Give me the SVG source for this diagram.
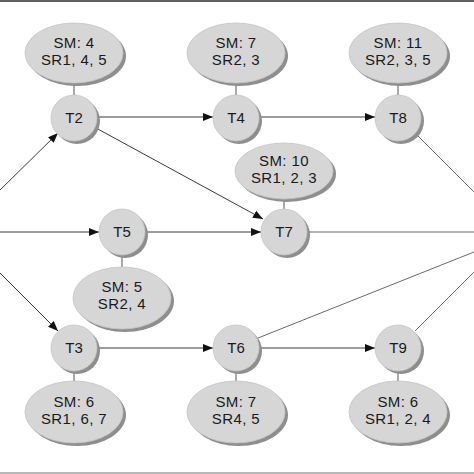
<svg xmlns="http://www.w3.org/2000/svg" width="474" height="474" viewBox="0 0 474 474">
<style>
.bg{fill:#ffffff}
.sh{fill:#8e8e8e}
.nd{fill:#d6d6d6;stroke:#c4c4c4;stroke-width:0.8}
.t{font-family:"Liberation Sans",Arial,sans-serif;font-size:15px;fill:#1a1a1a;text-anchor:middle}
.l{letter-spacing:0.4px}
.e{stroke:#3a3a3a;stroke-width:1;fill:none}
.eg{stroke:#6a6a6a;stroke-width:1;fill:none}
.stub{stroke:#555;stroke-width:1}
</style>
<defs>
<marker id="ah" viewBox="0 0 10 8" refX="10" refY="4" markerWidth="10" markerHeight="8" markerUnits="userSpaceOnUse" orient="auto">
<path d="M0,0 L10,4 L0,8 Z" fill="#111"/>
</marker>
</defs>
<rect class="bg" x="0" y="0" width="474" height="474"/>
<rect x="0" y="0" width="474" height="2" fill="#606060"/>
<rect x="0" y="472" width="474" height="2" fill="#b8b8b8"/>

<g id="connectors">
<line class="e" x1="0" y1="190" x2="58" y2="133" marker-end="url(#ah)"/>
<line class="e" x1="0" y1="232" x2="99" y2="232" marker-end="url(#ah)"/>
<line class="e" x1="0" y1="273" x2="58" y2="331" marker-end="url(#ah)"/>
<line class="e" x1="98" y1="117" x2="213" y2="117" marker-end="url(#ah)"/>
<line class="e" x1="96" y1="128" x2="263" y2="219" marker-end="url(#ah)"/>
<line class="e" x1="260" y1="117" x2="375" y2="117" marker-end="url(#ah)"/>
<line class="e" x1="146" y1="232" x2="261" y2="232" marker-end="url(#ah)"/>
<line class="e" x1="98" y1="348" x2="213" y2="348" marker-end="url(#ah)"/>
<line class="e" x1="260" y1="348" x2="375" y2="348" marker-end="url(#ah)"/>
<line class="eg" x1="308" y1="232" x2="474" y2="232"/>
<line class="eg" x1="417" y1="135" x2="474" y2="192"/>
<line class="eg" x1="258" y1="338" x2="474" y2="252"/>
<line class="eg" x1="415" y1="331" x2="474" y2="272"/>
<line class="stub" x1="74" y1="83" x2="74" y2="95"/>
<line class="stub" x1="236" y1="83" x2="236" y2="95"/>
<line class="stub" x1="398" y1="83" x2="398" y2="95"/>
<line class="stub" x1="284" y1="199" x2="284" y2="210"/>
<line class="stub" x1="122" y1="254" x2="122" y2="268"/>
<line class="stub" x1="74" y1="370" x2="74" y2="382"/>
<line class="stub" x1="236" y1="370" x2="236" y2="382"/>
<line class="stub" x1="398" y1="370" x2="398" y2="382"/>
</g>

<g id="T2"><circle class="sh" cx="77" cy="121" r="23"/><circle class="nd" cx="74" cy="118" r="23"/><text class="t" x="74" y="123">T2</text></g>
<g id="T4"><circle class="sh" cx="239" cy="121" r="23"/><circle class="nd" cx="236" cy="118" r="23"/><text class="t" x="236" y="123">T4</text></g>
<g id="T8"><circle class="sh" cx="401" cy="121" r="23"/><circle class="nd" cx="398" cy="118" r="23"/><text class="t" x="398" y="123">T8</text></g>
<g id="T5"><circle class="sh" cx="125" cy="235" r="23"/><circle class="nd" cx="122" cy="232" r="23"/><text class="t" x="122" y="237">T5</text></g>
<g id="T7"><circle class="sh" cx="287" cy="235" r="23"/><circle class="nd" cx="284" cy="232" r="23"/><text class="t" x="284" y="237">T7</text></g>
<g id="T3"><circle class="sh" cx="77" cy="351" r="23"/><circle class="nd" cx="74" cy="348" r="23"/><text class="t" x="74" y="353">T3</text></g>
<g id="T6"><circle class="sh" cx="239" cy="351" r="23"/><circle class="nd" cx="236" cy="348" r="23"/><text class="t" x="236" y="353">T6</text></g>
<g id="T9"><circle class="sh" cx="401" cy="351" r="23"/><circle class="nd" cx="398" cy="348" r="23"/><text class="t" x="398" y="353">T9</text></g>

<g id="SM4"><ellipse class="sh" cx="77" cy="56" rx="49" ry="30"/><ellipse class="nd" cx="74" cy="53" rx="49" ry="30"/><text class="t l" x="74" y="48">SM: 4</text><text class="t l" x="74" y="65">SR1, 4, 5</text></g>
<g id="SM7a"><ellipse class="sh" cx="239" cy="56" rx="49" ry="30"/><ellipse class="nd" cx="236" cy="53" rx="49" ry="30"/><text class="t l" x="236" y="48">SM: 7</text><text class="t l" x="236" y="65">SR2, 3</text></g>
<g id="SM11"><ellipse class="sh" cx="401" cy="56" rx="49" ry="30"/><ellipse class="nd" cx="398" cy="53" rx="49" ry="30"/><text class="t l" x="398" y="48">SM: 11</text><text class="t l" x="398" y="65">SR2, 3, 5</text></g>
<g id="SM10"><ellipse class="sh" cx="287" cy="174" rx="49" ry="28"/><ellipse class="nd" cx="284" cy="171" rx="49" ry="28"/><text class="t l" x="284" y="166">SM: 10</text><text class="t l" x="284" y="183">SR1, 2, 3</text></g>
<g id="SM5"><ellipse class="sh" cx="125" cy="301" rx="49" ry="31"/><ellipse class="nd" cx="122" cy="298" rx="49" ry="31"/><text class="t l" x="122" y="292">SM: 5</text><text class="t l" x="122" y="309">SR2, 4</text></g>
<g id="SM6a"><ellipse class="sh" cx="77" cy="415" rx="49" ry="31"/><ellipse class="nd" cx="74" cy="412" rx="49" ry="31"/><text class="t l" x="74" y="407">SM: 6</text><text class="t l" x="74" y="424">SR1, 6, 7</text></g>
<g id="SM7b"><ellipse class="sh" cx="239" cy="415" rx="49" ry="31"/><ellipse class="nd" cx="236" cy="412" rx="49" ry="31"/><text class="t l" x="236" y="407">SM: 7</text><text class="t l" x="236" y="424">SR4, 5</text></g>
<g id="SM6b"><ellipse class="sh" cx="401" cy="415" rx="49" ry="31"/><ellipse class="nd" cx="398" cy="412" rx="49" ry="31"/><text class="t l" x="398" y="407">SM: 6</text><text class="t l" x="398" y="424">SR1, 2, 4</text></g>
</svg>
